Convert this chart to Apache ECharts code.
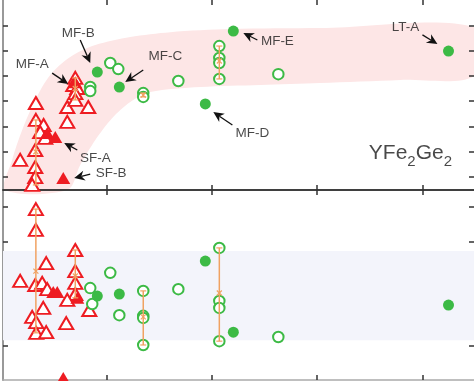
<!DOCTYPE html>
<html><head><meta charset="utf-8">
<script src="https://cdn.jsdelivr.net/npm/echarts@6/dist/echarts.min.js"></script>
<style>html,body{margin:0;padding:0;background:#fff}#c{width:474px;height:381px}</style>
</head><body><div id="c"></div>
<script>
// ---- axis ticks ----
const xTicks = [1, 2, 3, 4];
const topYTicks = [1, 2, 3, 4, 5, 6, 7];
const botYTicks = [1, 2, 3, 4, 5];

// ---- top panel data ----
const topRedOpen = [[0.332,3.93],[0.332,3.26],[0.405,3.06],[0.373,2.78],[0.421,2.55],[0.326,2.07],[0.183,1.68],[0.326,1.40],[0.326,1.00],[0.297,0.69],[0.630,3.77],[0.630,3.18],[0.829,3.77],[0.706,4.92],[0.687,4.64],[0.725,4.52],[0.706,4.32],[0.706,4.05]];
const topRedFilled = [[0.440,2.74],[0.516,2.58],[0.592,0.96],[0.706,4.75]];
const topGreenOpen = [[1.038,5.51],[1.114,5.27],[0.848,4.56],[0.848,4.40],[1.351,4.32],[1.351,4.17],[1.684,4.80],[2.073,6.18],[2.073,5.71],[2.073,5.51],[2.073,4.88],[2.633,5.07]];
const topGreenFilled = [[0.915,5.15],[1.124,4.56],[2.206,6.77],[1.940,3.89],[4.248,5.98]];
// x, low, high, mean
const topErrBars = [[0.332,0.69,3.26,2.0],[0.706,4.05,4.92,4.5],[1.351,4.17,4.32,4.24],[2.073,4.88,6.18,5.59]];

// pink band (upper edge & lower edge)
const bandUpX = [0.041,0.107,0.202,0.326,0.468,0.658,0.896,1.228,1.608,2.178,3.032,4.49];
const bandUpY = [0.49,1.68,2.86,4.05,5.04,5.75,6.22,6.54,6.73,6.85,6.89,6.93];
const bandLoX = [0.630,0.753,0.896,1.057,1.228,1.418,1.893,2.463,3.032,3.792,4.49];
const bandLoY = [0.49,1.48,2.47,3.34,3.97,4.36,4.56,4.64,4.72,4.84,5.00];

// ---- bottom panel data ----
const botRedOpen = [[0.332,4.93],[0.332,4.33],[0.430,3.37],[0.183,2.86],[0.326,2.74],[0.392,2.80],[0.440,2.62],[0.402,2.08],[0.297,1.82],[0.335,1.67],[0.335,1.36],[0.430,1.38],[0.706,3.75],[0.706,3.14],[0.706,2.80],[0.706,2.48],[0.630,2.31],[0.620,1.64],[0.839,2.02]];
const botRedFilled = [[0.497,2.54],[0.535,2.54],[0.725,2.37],[0.592,0.06]];
const botGreenOpen = [[1.038,3.09],[0.848,2.65],[0.867,2.19],[1.124,1.87],[1.351,2.57],[1.351,1.85],[1.351,1.79],[1.351,1.01],[2.073,3.81],[2.073,2.28],[2.073,2.08],[2.073,1.12],[1.684,2.62],[2.633,1.24]];
const botGreenFilled = [[0.915,2.42],[1.124,2.48],[1.940,3.43],[2.206,1.38],[4.248,2.16]];
const botErrBars = [[0.332,1.36,4.93,3.14],[0.706,2.37,3.75,3.0],[1.351,1.01,2.57,1.82],[2.073,1.12,3.81,2.51]];
const botBand = [1.15, 3.72];

// ---- annotations ----
const annNames = ['MF-A','MF-B','MF-C','MF-E','MF-D','LT-A','SF-A','SF-B'];
const annText = [[0.297,5.47],[0.734,6.70],[1.560,5.79],[2.624,6.38],[2.386,2.74],[3.840,6.93],[0.896,1.75],[1.047,1.16]];
const annFrom = [[0.487,5.11],[0.753,6.42],[1.351,5.23],[2.434,6.42],[2.197,3.06],[4.001,6.62],[0.725,2.07],[0.848,1.12]];
const annTo = [[0.639,4.68],[0.848,5.51],[1.180,4.76],[2.301,6.70],[2.016,3.57],[4.143,6.26],[0.601,2.35],[0.696,0.96]];
const compoundPos = [3.887, 1.91];

const RED = '#ee1c22', GREEN = '#3cba45', ORANGE = '#f0a262';
const FONT = '"Liberation Sans", Arial, sans-serif';

const chart = echarts.init(document.getElementById('c'), null, {renderer: 'canvas'});

function xAx(grid, pos, showLine, lineColor) {
  return {type:'value', gridIndex:grid, position:pos, min:0.02, max:4.49,
    axisLine:{show:showLine, onZero:false, lineStyle:{color:lineColor, width:1.5}},
    axisTick:{show:true, inside:true, length:5, customValues:xTicks, lineStyle:{color:'#333', width:1.5}},
    axisLabel:{show:false}, splitLine:{show:false}};
}
function yAx(grid, pos, min, max, ticks, showLine) {
  return {type:'value', gridIndex:grid, position:pos, min:min, max:max,
    axisLine:{show:showLine, onZero:false, lineStyle:{color:'#999', width:2}},
    axisTick:{show:true, inside:true, length:5, customValues:ticks, lineStyle:{color:'#333', width:1.5}},
    axisLabel:{show:false}, splitLine:{show:false}};
}

function scat(data, xi, yi, sym, size, filled, color, z) {
  return {type:'scatter', xAxisIndex:xi, yAxisIndex:yi, data:data, symbol:sym, symbolSize:size, z:z||3,
    itemStyle: filled ? {color:color, opacity:1} : {color:'#fff', borderColor:color, borderWidth:2, opacity:1},
    silent:true};
}

function errSeries(data, xi, yi) {
  return {type:'custom', xAxisIndex:xi, yAxisIndex:yi, data:data, z:5, silent:true,
    renderItem:function(params, api){
      const x = api.value(0), lo = api.value(1), hi = api.value(2), m = api.value(3);
      const p1 = api.coord([x, lo]), p2 = api.coord([x, hi]), pm = api.coord([x, m]);
      const s = 2.5;
      return {type:'group', children:[
        {type:'line', shape:{x1:p1[0], y1:p1[1], x2:p2[0], y2:p2[1]}, style:{stroke:ORANGE, lineWidth:1.5}},
        {type:'line', shape:{x1:p1[0]-3, y1:p1[1], x2:p1[0]+3, y2:p1[1]}, style:{stroke:ORANGE, lineWidth:1.2}},
        {type:'line', shape:{x1:p2[0]-3, y1:p2[1], x2:p2[0]+3, y2:p2[1]}, style:{stroke:ORANGE, lineWidth:1.2}},
        {type:'line', shape:{x1:pm[0]-s, y1:pm[1]-s, x2:pm[0]+s, y2:pm[1]+s}, style:{stroke:ORANGE, lineWidth:1.2}},
        {type:'line', shape:{x1:pm[0]-s, y1:pm[1]+s, x2:pm[0]+s, y2:pm[1]-s}, style:{stroke:ORANGE, lineWidth:1.2}}
      ]};
    }};
}

const arrowData = annFrom.map((f,i)=>[f[0], f[1], annTo[i][0], annTo[i][1]]);

const option = {
  animation:false,
  backgroundColor:'#fff',
  grid:[
    {left:3, top:0, width:471, height:190},
    {left:3, top:190, width:471, height:190}
  ],
  xAxis:[
    xAx(0,'bottom',true,'#333'),
    xAx(0,'top',false,'#333'),
    xAx(1,'top',true,'#333'),
    xAx(1,'bottom',true,'#aaa')
  ],
  yAxis:[
    yAx(0,'left',0.49,8,topYTicks,true),
    yAx(0,'right',0.49,8,topYTicks,false),
    yAx(1,'left',0,5.48,botYTicks,true),
    yAx(1,'right',0,5.48,botYTicks,false)
  ],
  series:[
    {type:'custom', xAxisIndex:0, yAxisIndex:0, data:[[1,1]], z:0, silent:true,
      renderItem:function(params, api){
        const pts = [];
        for (let i=0;i<bandUpX.length;i++) pts.push(api.coord([bandUpX[i], bandUpY[i]]));
        for (let i=bandLoX.length-1;i>=0;i--) pts.push(api.coord([bandLoX[i], bandLoY[i]]));
        return {type:'polygon', shape:{points:pts, smooth:0.3}, style:{fill:'#fde6e6'}};
      }},
    {type:'scatter', xAxisIndex:3, yAxisIndex:2, data:[], silent:true,
      markArea:{silent:true, itemStyle:{color:'#f3f4fb'}, data:[[{yAxis:botBand[0]},{yAxis:botBand[1]}]]}},
    scat(topRedOpen,0,0,'triangle',[14,12],false,RED,3),
    scat(topRedFilled,0,0,'triangle',[14,12],true,RED,3),
    scat(topGreenOpen,0,0,'circle',10.5,false,GREEN,3),
    scat(topGreenFilled,0,0,'circle',11,true,GREEN,3),
    errSeries(topErrBars,0,0),
    scat(botRedOpen,3,2,'triangle',[14,12],false,RED,3),
    scat(botRedFilled,3,2,'triangle',[14,12],true,RED,3),
    scat(botGreenOpen,3,2,'circle',10.5,false,GREEN,3),
    scat(botGreenFilled,3,2,'circle',11,true,GREEN,3),
    errSeries(botErrBars,3,2),
    // annotation arrows
    {type:'custom', xAxisIndex:0, yAxisIndex:0, data:arrowData, z:6, silent:true,
      renderItem:function(params, api){
        const a = api.coord([api.value(0), api.value(1)]);
        const b = api.coord([api.value(2), api.value(3)]);
        const dx = b[0]-a[0], dy = b[1]-a[1], len = Math.sqrt(dx*dx+dy*dy);
        const ux = dx/len, uy = dy/len, nx = -uy, ny = ux;
        const L = 10.5, W = 5;
        const bx = b[0]-ux*L, by = b[1]-uy*L;
        const cx = b[0]-ux*L*0.7, cy = b[1]-uy*L*0.7;
        return {type:'group', children:[
          {type:'line', shape:{x1:a[0], y1:a[1], x2:cx, y2:cy}, style:{stroke:'#111', lineWidth:1.3}},
          {type:'polygon', shape:{points:[[b[0],b[1]],[bx+nx*W,by+ny*W],[cx,cy],[bx-nx*W,by-ny*W]]}, style:{fill:'#111'}}
        ]};
      }},
    {type:'scatter', xAxisIndex:0, yAxisIndex:0, silent:true, symbolSize:0, z:6,
      data: annNames.map((n,i)=>({name:n, value:annText[i]})),
      label:{show:true, position:'inside', formatter:'{b}', fontFamily:FONT, fontSize:13.5, color:'#1a1a1a'}},
    {type:'scatter', xAxisIndex:0, yAxisIndex:0, silent:true, symbolSize:0, z:6,
      data:[{name:'YFe2Ge2', value:compoundPos}],
      label:{show:true, position:'inside', formatter:'{a|YFe}{s|2}{a|Ge}{s|2}',
        rich:{a:{fontFamily:FONT, fontSize:21, color:'#1a1a1a', verticalAlign:'top', lineHeight:22},
              s:{fontFamily:FONT, fontSize:15, color:'#1a1a1a', verticalAlign:'top', lineHeight:22, padding:[11,0,0,0]}}}}
  ]
};
chart.setOption(option);
</script></body></html>
